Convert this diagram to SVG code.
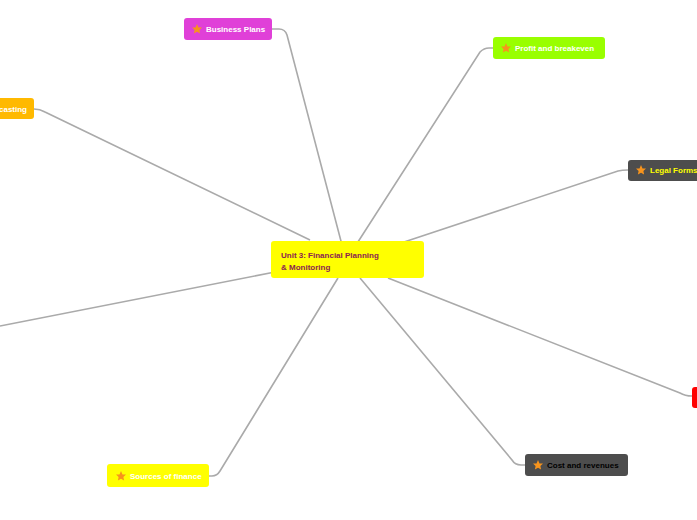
<svg xmlns="http://www.w3.org/2000/svg" width="697" height="520" viewBox="0 0 697 520">
<style>
.c{fill:none;stroke:#aaa;stroke-width:1.6}
.t{font-family:"Liberation Sans",Arial,sans-serif;font-size:8px;font-weight:bold}
</style>
<defs><polygon id="st" points="0,-5 1.5,-1.6 5,-1.5 2.4,1 3.1,4.6 0,2.8 -3.1,4.6 -2.4,1 -5,-1.5 -1.5,-1.6" fill="#f7941d"/></defs>
<rect width="697" height="520" fill="#fff"/>
<g id="connectors">
<path class="c" d="M342,245 L287,35 Q285,29 279,29 L272,29" stroke-width="2.2"/>
<path class="c" d="M356,245 L480,52 Q484,48 489,48 L493,48"/>
<path class="c" d="M310,240 L45,112 Q40,109 34,109"/>
<path class="c" d="M395,245 L618,171 Q622,170 628,170"/>
<path class="c" d="M275,272 L0,326"/>
<path class="c" d="M388,278 L680,393 Q685,396 692,396"/>
<path class="c" d="M360,278 L512,460 Q515,465 521,465 L525,465"/>
<path class="c" d="M338,278 L220,471 Q217,476 212,476 L209,476"/>
</g>
<g id="center"><rect x="271" y="241" width="153" height="37" rx="3" fill="#ffff00"/>
<text class="t" x="281" y="258" fill="#8b2252" font-size="9.6">Unit 3: Financial Planning</text>
<text class="t" x="281" y="270" fill="#8b2252" font-size="9.6">&amp; Monitoring</text></g>
<g id="business"><rect x="184" y="18" width="88" height="22" rx="3" fill="#e040d8"/><use href="#st" x="197" y="29"/><text class="t" x="206" y="32" fill="#fff">Business Plans</text></g>
<g id="profit"><rect x="493" y="37" width="112" height="22" rx="3" fill="#99ff00"/><use href="#st" x="506" y="48"/><text class="t" x="515" y="51" fill="#fff">Profit and breakeven</text></g>
<g id="forecasting"><rect x="-40" y="98" width="74" height="21" rx="3" fill="#ffb900"/><text class="t" x="-1" y="112" fill="#fff">casting</text></g>
<g id="legal"><rect x="628" y="160" width="80" height="21" rx="3" fill="#4d4d4d"/><use href="#st" x="641" y="170"/><text class="t" x="650" y="173" fill="#ffff00">Legal Forms</text></g>
<g id="red"><rect x="692" y="387" width="20" height="21" rx="3" fill="#ff0000"/></g>
<g id="cost"><rect x="525" y="454" width="103" height="22" rx="3" fill="#4d4d4d"/><use href="#st" x="538" y="465"/><text class="t" x="547" y="468" fill="#000">Cost and revenues</text></g>
<g id="sources"><rect x="107" y="464" width="102" height="23" rx="3" fill="#ffff00"/><use href="#st" x="121" y="476"/><text class="t" x="130" y="479" fill="#fff">Sources of finance</text></g>
</svg>
